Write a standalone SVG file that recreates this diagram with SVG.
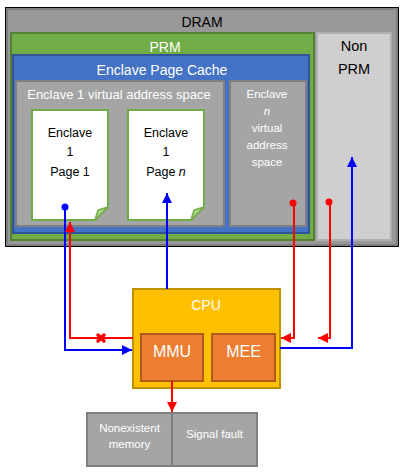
<svg xmlns="http://www.w3.org/2000/svg" width="405" height="474" viewBox="0 0 405 474">
<defs>
<marker id="ab" viewBox="0 0 10 10" refX="10" refY="5" markerWidth="10" markerHeight="10" markerUnits="userSpaceOnUse" orient="auto"><path d="M0,0 L10,5 L0,10 Z" fill="#0000ff"/></marker>
<marker id="ar" viewBox="0 0 10 10" refX="10" refY="5" markerWidth="10" markerHeight="10" markerUnits="userSpaceOnUse" orient="auto"><path d="M0,0 L10,5 L0,10 Z" fill="#ff0000"/></marker>
</defs>
<style>
text{font-family:"Liberation Sans",Arial,sans-serif;text-anchor:middle}
.w{fill:#ffffff}
.k{fill:#000000}
.gray{fill:#a5a5a5;stroke:#7f7f7f;stroke-width:2}
.page{fill:#ffffff;stroke:#70ad47;stroke-width:2}
.fold{fill:#a9d18e;stroke:#70ad47;stroke-width:1.5}
.b{stroke:#0000ff;stroke-width:2;fill:none}
.r{stroke:#ff0000;stroke-width:2;fill:none}
</style>
<rect width="405" height="474" fill="#ffffff"/>
<g id="dram">
<rect x="5.5" y="7.5" width="393" height="239" fill="#7f7f7f" stroke="#000000" stroke-width="1"/>
<rect x="8" y="10" width="388" height="234" fill="#989898"/>
<text x="202" y="27" font-size="14" class="k">DRAM</text>
</g>
<g id="nonprm">
<rect x="317" y="33" width="74" height="207" fill="#cfcfcf" stroke="#b0b0b0" stroke-width="2"/>
<text x="354" y="51" font-size="14.5" class="k">Non</text>
<text x="354" y="74" font-size="14.5" class="k">PRM</text>
</g>
<g id="prm">
<rect x="11" y="33" width="303" height="207" fill="#70ad47" stroke="#548235" stroke-width="2"/>
<text x="165" y="52" font-size="14" class="w">PRM</text>
</g>
<g id="epc">
<rect x="13" y="55" width="296" height="178" fill="#4472c4" stroke="#2f5597" stroke-width="2"/>
<text x="162" y="75" font-size="14" class="w">Enclave Page Cache</text>
</g>
<g id="enclave1">
<rect x="16" y="81" width="208" height="145" class="gray"/>
<text x="119" y="99" font-size="13" class="w">Enclave 1 virtual address space</text>
</g>
<g id="enclaven">
<rect x="230" y="81" width="76" height="145" class="gray"/>
<text x="267" y="98" font-size="11.5" class="w">Enclave</text>
<text x="267" y="115" font-size="11.5" class="w" font-style="italic">n</text>
<text x="267" y="132" font-size="11.5" class="w">virtual</text>
<text x="267" y="149" font-size="11.5" class="w">address</text>
<text x="267" y="166" font-size="11.5" class="w">space</text>
</g>
<g id="page1">
<path d="M32,110 H108 V207 L95,220 H32 Z" class="page"/>
<path d="M108,207 L98,210 L95,220 Z" class="fold"/>
<text x="70" y="137" font-size="12.5" class="k">Enclave</text>
<text x="70" y="156" font-size="12.5" class="k">1</text>
<text x="70" y="176" font-size="12.5" class="k">Page 1</text>
</g>
<g id="pagen">
<path d="M128,110 H204 V207 L191,220 H128 Z" class="page"/>
<path d="M204,207 L194,210 L191,220 Z" class="fold"/>
<text x="166" y="137" font-size="12.5" class="k">Enclave</text>
<text x="166" y="156" font-size="12.5" class="k">1</text>
<text x="166" y="176" font-size="12.5" class="k">Page <tspan font-style="italic">n</tspan></text>
</g>
<g id="cpu">
<rect x="133" y="289" width="147" height="99" fill="#ffc000" stroke="#bf9000" stroke-width="2"/>
<text x="206" y="310" font-size="14" class="w">CPU</text>
</g>
<g id="mmu">
<rect x="141" y="334" width="62" height="47" fill="#ed7d31" stroke="#ae5a21" stroke-width="2"/>
<text x="172" y="357" font-size="16" class="w">MMU</text>
</g>
<g id="mee">
<rect x="212" y="334" width="63" height="47" fill="#ed7d31" stroke="#ae5a21" stroke-width="2"/>
<text x="243.5" y="357" font-size="16" class="w">MEE</text>
</g>
<g id="nonexistent">
<rect x="87" y="413" width="85" height="53" class="gray"/>
<text x="129.5" y="432" font-size="11.5" class="w">Nonexistent</text>
<text x="129.5" y="448" font-size="11.5" class="w">memory</text>
</g>
<g id="signalfault">
<rect x="172" y="413" width="85" height="53" class="gray"/>
<text x="214.5" y="438" font-size="11.5" class="w">Signal fault</text>
</g>
<g id="connectors">
<circle cx="65" cy="207" r="3.5" fill="#0000ff"/>
<path d="M65,207 V350 H132" class="b" marker-end="url(#ab)"/>
<path d="M133,338 H70 V222" class="r" marker-end="url(#ar)"/>
<path d="M98,335 L104,341 M104,335 L98,341" stroke="#ff0000" stroke-width="3.5" stroke-linecap="round"/>
<path d="M167,289 V193" class="b" marker-end="url(#ab)"/>
<circle cx="293" cy="203" r="3.5" fill="#ff0000"/>
<path d="M294,203 V338 H281" class="r" marker-end="url(#ar)"/>
<circle cx="329" cy="202" r="3.5" fill="#ff0000"/>
<path d="M330,202 V338 H318" class="r" marker-end="url(#ar)"/>
<path d="M280,348 H352 V157" class="b" marker-end="url(#ab)"/>
<path d="M172,381 V412" class="r" marker-end="url(#ar)"/>
</g>
</svg>
